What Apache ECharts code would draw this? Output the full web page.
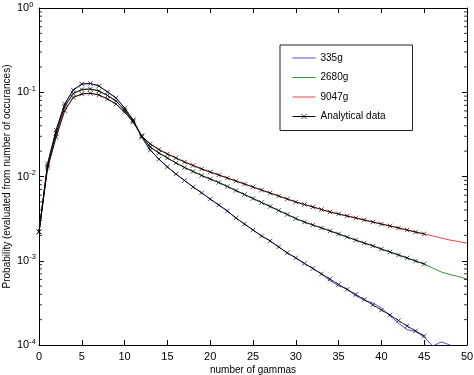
<!DOCTYPE html>
<html><head><meta charset="utf-8">
<script src="https://cdn.jsdelivr.net/npm/echarts@6/dist/echarts.min.js"></script>
<style>html,body{margin:0;padding:0;background:#fff}#c{width:474px;height:375px}</style>
</head><body><div id="c"></div>
<script>
// ---- data ----
const gammasAnalytical = [0,1,2,3,4,5,6,7,8,9,10,11,12,13,14,15,16,17,18,19,20,21,22,23,24,25,26,27,28,29,30,31,32,33,34,35,36,37,38,39,40,41,42,43,44,45];
const gammasSim = [0,1,2,3,4,5,6,7,8,9,10,11,12,13,14,15,16,17,18,19,20,21,22,23,24,25,26,27,28,29,30,31,32,33,34,35,36,37,38,39,40,41,42,43,44,45,46,47,48,49,50];

const ana335 = [0.0022,0.0141,0.0356,0.0725,0.1063,0.1253,0.127,0.1187,0.1007,0.0855,0.065,0.0469,0.0294,0.0206,0.0161,0.013,0.0107,0.00897,0.00751,0.0064,0.0054,0.00459,0.0039,0.00322,0.00273,0.00232,0.00197,0.00172,0.00146,0.00124,0.00108,0.000928,0.000809,0.000697,0.000607,0.000523,0.000456,0.000398,0.000347,0.000299,0.00026,0.000227,0.000195,0.000168,0.000147,0.000128];
const ana2680 = [0.0022,0.0133,0.0328,0.0677,0.0966,0.1078,0.1093,0.1035,0.0915,0.0788,0.0616,0.0456,0.0303,0.0224,0.019,0.0166,0.01446,0.01279,0.01147,0.01028,0.00934,0.00849,0.00761,0.00682,0.00611,0.00548,0.00491,0.00441,0.00395,0.00354,0.00317,0.00288,0.00266,0.00245,0.00226,0.00208,0.00191,0.00176,0.00162,0.0015,0.00138,0.00127,0.00117,0.00108,0.000993,0.000915];
const ana9047 = [0.0022,0.0126,0.0294,0.0607,0.0866,0.0954,0.0972,0.0928,0.0832,0.0725,0.0583,0.0443,0.0303,0.0243,0.0209,0.0185,0.0166,0.01486,0.01352,0.01228,0.01131,0.01042,0.0096,0.00885,0.00815,0.0075,0.00691,0.00637,0.00587,0.00541,0.00498,0.00466,0.00435,0.00406,0.00379,0.00359,0.0034,0.00322,0.00305,0.00288,0.00273,0.00259,0.00245,0.00232,0.00219,0.00208];

const sim335 = [0.0022,0.0141,0.0356,0.0725,0.1063,0.1253,0.127,0.1187,0.1007,0.0855,0.065,0.0469,0.0294,0.0206,0.0161,0.013,0.0107,0.00897,0.00751,0.0064,0.0054,0.00459,0.0039,0.00322,0.00273,0.00232,0.00197,0.00172,0.00146,0.00124,0.00108,0.000928,0.000809,0.000697,0.00058,0.000505,0.00046,0.000385,0.00034,0.000315,0.000275,0.000222,0.000182,0.000152,0.000145,0.000124,0.000097,0.000109,0.0001];
const sim2680 = [0.0022,0.0133,0.0328,0.0677,0.0966,0.1078,0.1093,0.1035,0.0915,0.0788,0.0616,0.0456,0.0303,0.0224,0.019,0.0166,0.01446,0.01279,0.01147,0.01028,0.00934,0.00849,0.00761,0.00682,0.00611,0.00548,0.00491,0.00441,0.00395,0.00354,0.00317,0.00288,0.00266,0.00245,0.00226,0.00208,0.00191,0.00176,0.00162,0.00152,0.00137,0.00127,0.00117,0.00108,0.000993,0.000915,0.00082,0.000735,0.000687,0.00065,0.000607];
const sim9047 = [0.0022,0.0126,0.0294,0.0607,0.0866,0.0954,0.0972,0.0928,0.0832,0.0725,0.0583,0.0443,0.0303,0.0243,0.0209,0.0185,0.0166,0.01486,0.01352,0.01228,0.01131,0.01042,0.0096,0.00885,0.00815,0.0075,0.00691,0.00637,0.00587,0.00541,0.00498,0.00466,0.00435,0.00406,0.00379,0.00359,0.0034,0.00322,0.00305,0.00288,0.00273,0.00259,0.00245,0.00232,0.00219,0.00208,0.00197,0.00186,0.00176,0.00169,0.00162];

const xTicks = [0,5,10,15,20,25,30,35,40,45,50];
const yDecades = [1e-4,1e-3,1e-2,1e-1,1];
const minorMantissas = [2,3,4,5,6,7,8,9];

const seriesNames = ['335g','2680g','9047g','Analytical data'];
const colors = ['#4a4af2','#3b8c3b','#ee4040'];

// ---- build ----
function pairs(xs, ys){ return ys.map((v,i)=>[xs[i], v]); }
const minorVals = [];
yDecades.slice(0,-1).forEach(d => minorMantissas.forEach(m => minorVals.push(m*d)));
const font = 'Liberation Sans, Arial, Helvetica, sans-serif';
const xSym = 'path://M0,0L10,10M10,0L0,10';

const sims = [sim335, sim2680, sim9047];
const anas = [ana335, ana2680, ana9047];
const series = [];
sims.forEach((s,i)=>series.push({
  name: seriesNames[i], type:'line', data: pairs(gammasSim, s),
  symbol:'none', lineStyle:{color:colors[i], width:1}, itemStyle:{color:colors[i]},
  xAxisIndex:0, yAxisIndex:0, z:2, animation:false
}));
anas.forEach((s,i)=>series.push({
  name: 'Analytical data', type:'line', data: pairs(gammasAnalytical, s),
  symbol:xSym, symbolSize:4.5, showAllSymbol:true,
  lineStyle:{color:'#000', width:0.8},
  itemStyle:{color:'#000', borderColor:'#000', borderWidth:0.7},
  xAxisIndex:0, yAxisIndex:0, z:3, animation:false
}));
series.push({type:'scatter', silent:true, clip:false, data: minorVals.map(v=>[xTicks[0], v]),
  symbol:'rect', symbolSize:[3,1], symbolOffset:[1.5,0], itemStyle:{color:'#000'}, animation:false, z:5});
series.push({type:'scatter', silent:true, clip:false, data: minorVals.map(v=>[xTicks[xTicks.length-1], v]),
  symbol:'rect', symbolSize:[3,1], symbolOffset:[-1.5,0], itemStyle:{color:'#000'}, animation:false, z:5});

const axisLine = {show:true, onZero:false, lineStyle:{color:'#000', width:1}};
const tick = {show:true, inside:true, length:5, lineStyle:{color:'#000'}};
const hiddenSym = {color:'rgba(0,0,0,0)', borderColor:'rgba(0,0,0,0)', borderWidth:0};

const option = {
  backgroundColor:'#fff',
  animation:false,
  textStyle:{fontFamily:font},
  grid:{left:39, right:7, top:8, bottom:30, containLabel:false, outerBoundsMode:'none'},
  legend:{
    data:[
      {name:seriesNames[0], itemStyle:hiddenSym},
      {name:seriesNames[1], itemStyle:hiddenSym},
      {name:seriesNames[2], itemStyle:hiddenSym},
      {name:seriesNames[3], itemStyle:{borderWidth:0.8}}
    ],
    orient:'vertical', left:280, top:45,
    itemWidth:23, itemHeight:6, itemGap:9.5,
    lineStyle:{width:1},
    padding:[8,27,9,12], borderColor:'#222', borderWidth:1, backgroundColor:'#fff',
    textStyle:{fontSize:10, color:'#000', fontFamily:font}
  },
  xAxis:[
    {type:'value', min:xTicks[0], max:xTicks[xTicks.length-1], interval:5, position:'bottom',
     name:'number of gammas', nameLocation:'middle', nameGap:20, nameMoveOverlap:false,
     nameTextStyle:{fontSize:10, color:'#000', fontFamily:font},
     axisLine, axisTick:tick, splitLine:{show:false},
     axisLabel:{fontSize:11, color:'#000', margin:6, fontFamily:font}},
    {type:'value', min:xTicks[0], max:xTicks[xTicks.length-1], interval:5, position:'top',
     axisLine, axisTick:tick, splitLine:{show:false}, axisLabel:{show:false}}
  ],
  yAxis:[
    {type:'log', logBase:10, min:yDecades[0], max:yDecades[yDecades.length-1], position:'left',
     name:'Probability (evaluated from number of occurances)', nameLocation:'middle', nameGap:27, nameMoveOverlap:false,
     nameTextStyle:{fontSize:10, color:'#000', fontFamily:font},
     axisLine, axisTick:tick, splitLine:{show:false},
     axisLabel:{align:'left', margin:22, color:'#000',
       formatter: v => '{b|10}{s|' + Math.round(Math.log10(v)) + '}',
       rich:{b:{fontSize:11, color:'#000', fontFamily:font}, s:{fontSize:7.5, color:'#000', fontFamily:font, padding:[0,0,7,0]}}}},
    {type:'log', logBase:10, min:yDecades[0], max:yDecades[yDecades.length-1], position:'right',
     axisLine, axisTick:tick, splitLine:{show:false}, axisLabel:{show:false}}
  ],
  series
};
const chart = echarts.init(document.getElementById('c'), null, {renderer:'canvas'});
chart.setOption(option);
</script>
</body></html>
